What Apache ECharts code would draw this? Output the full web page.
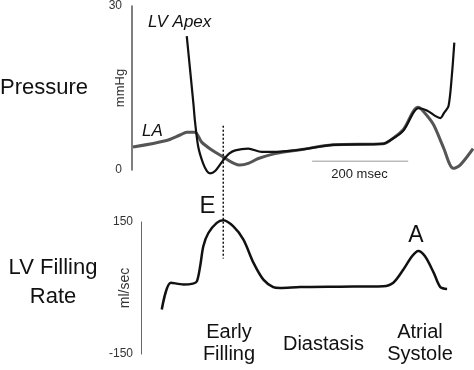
<!DOCTYPE html>
<html>
<head>
<meta charset="utf-8">
<script src="https://cdn.jsdelivr.net/npm/echarts@6/dist/echarts.min.js"></script>
<style>
html,body{margin:0;padding:0;background:#fff;}
#chart{width:474px;height:370px;}
</style>
</head>
<body>
<div id="chart"></div>
<script>
// time in msec
var lvApexTime = [114,128,131,138,148,156,162.5,173,190,202,215,242,270,298,329,350,419,523,537,565,586,596,614,631,642,650,659,666,671];
var lvApexPressure = [24.5,12,9.0,4.2,1.2,-0.2,-0.6,-0.2,1.8,3.0,3.6,3.9,3.3,3.3,3.5,3.7,4.6,4.8,5.4,7.2,10.5,11.3,10.9,9.9,9.5,10.5,11.7,17.4,23.3];

var laTime = [2,72,100,114,131,145,167,190,208,225,242,263,298,350,419,523,537,565,586,596,606,627,648,669,683,710];
var laPressure = [4.2,5.4,6.4,6.9,6.9,5.1,3.6,2.4,1.4,0.9,1.2,2.1,3.0,3.7,4.6,4.8,5.4,7.4,10.8,11.5,10.8,8.4,4.2,0.3,0.9,3.9];

var flowTime = [62,81,107,127,135,142,148.5,159,176.5,190,211,232,253,273.5,294,308,350,433,523,544,565,583,596,610,628,642,656];
var flowRate = [-49,12,8,10,15,50,95,125,148,154,140,110,57,19,2,0,2,3,4,12,42,72,84,72,35,2,-2];

var pressureTicks = [0, 30];
var flowTicks = [-150, 150];
var scaleBarMs = [375, 575];
var scaleBarLevel = 1.6;

function pairs(xs, ys){ return xs.map(function(x,i){ return [x, ys[i]]; }); }

var ePeakIdx = flowRate.indexOf(Math.max.apply(null, flowRate));
var eTime = flowTime[ePeakIdx];

var font = '"Liberation Sans", Arial, sans-serif';
var chart = echarts.init(document.getElementById('chart'), null, {renderer:'canvas'});

chart.setOption({
  animation:false,
  backgroundColor:'#fff',
  grid:[
    {left:132, right:0, top:3, bottom:200},
    {left:132, right:0, top:222, bottom:16}
  ],
  xAxis:[
    {type:'value', gridIndex:0, min:0, max:712, show:false},
    {type:'value', gridIndex:1, min:0, max:712, show:false}
  ],
  yAxis:[
    {type:'value', gridIndex:0, min:pressureTicks[0], max:pressureTicks[1], interval:30,
     axisLine:{show:true, onZero:false, lineStyle:{color:'#555', width:1.5}},
     axisTick:{show:false}, splitLine:{show:false},
     axisLabel:{color:'#333', fontSize:12, fontFamily:font, margin:10},
     name:'mmHg', nameLocation:'middle', nameGap:5, nameMoveOverlap:false,
     nameTextStyle:{color:'#333', fontSize:13, fontFamily:font}},
    {type:'value', gridIndex:1, min:flowTicks[0], max:flowTicks[1], interval:150, offset:-9,
     axisLine:{show:true, onZero:false, lineStyle:{color:'#666', width:1}},
     axisTick:{show:false}, splitLine:{show:false},
     axisLabel:{color:'#333', fontSize:12, fontFamily:font, margin:8,
       formatter:function(v){ return v===0 ? '' : String(v); }},
     name:'ml/sec', nameLocation:'middle', nameGap:9, nameMoveOverlap:false,
     nameTextStyle:{color:'#333', fontSize:14, fontFamily:font}}
  ],
  series:[
    {type:'line', xAxisIndex:0, yAxisIndex:0, data:pairs(laTime, laPressure), smooth:0.3, clip:false,
     showSymbol:false, lineStyle:{color:'#555', width:3}, z:2},
    {type:'line', xAxisIndex:0, yAxisIndex:0, data:pairs(lvApexTime, lvApexPressure), smooth:0.3, clip:false,
     showSymbol:false, lineStyle:{color:'#111', width:2.2}, z:3},
    {type:'line', xAxisIndex:0, yAxisIndex:0, data:[[scaleBarMs[0], scaleBarLevel],[scaleBarMs[1], scaleBarLevel]],
     showSymbol:false, lineStyle:{color:'#bbb', width:1.5}, z:1},
    {type:'line', xAxisIndex:0, yAxisIndex:0, clip:false, data:[[eTime, 8.1],[eTime, -16.2]],
     showSymbol:false, lineStyle:{color:'#111', width:1.5, type:[2,2]}, z:4},
    {type:'line', xAxisIndex:1, yAxisIndex:1, data:pairs(flowTime, flowRate), smooth:0.3, clip:false,
     showSymbol:false, lineStyle:{color:'#111', width:2.5}, z:3}
  ],
  graphic:[
    {type:'text', x:0, y:88, style:{text:'Pressure', font:'22px '+font, fill:'#111', verticalAlign:'middle'}},
    {type:'text', x:53, y:282, style:{text:'LV Filling\nRate', font:'22px '+font, fill:'#111', align:'center', verticalAlign:'middle', lineHeight:29}},
    {type:'text', x:148, y:22, style:{text:'LV Apex', font:'italic 17px '+font, fill:'#111', verticalAlign:'middle'}},
    {type:'text', x:142, y:131, style:{text:'LA', font:'italic 17px '+font, fill:'#111', verticalAlign:'middle'}},
    {type:'text', x:359.5, y:174, style:{text:'200 msec', font:'13px '+font, fill:'#222', align:'center', verticalAlign:'middle'}},
    {type:'text', x:207.5, y:206, style:{text:'E', font:'24px '+font, fill:'#111', align:'center', verticalAlign:'middle'}},
    {type:'text', x:416, y:236, style:{text:'A', font:'23px '+font, fill:'#111', align:'center', verticalAlign:'middle'}},
    {type:'text', x:229, y:343, style:{text:'Early\nFilling', font:'20px '+font, fill:'#111', align:'center', verticalAlign:'middle', lineHeight:22}},
    {type:'text', x:323.5, y:344, style:{text:'Diastasis', font:'20px '+font, fill:'#111', align:'center', verticalAlign:'middle'}},
    {type:'text', x:420, y:343, style:{text:'Atrial\nSystole', font:'20px '+font, fill:'#111', align:'center', verticalAlign:'middle', lineHeight:22}}
  ]
});
</script>
</body>
</html>
